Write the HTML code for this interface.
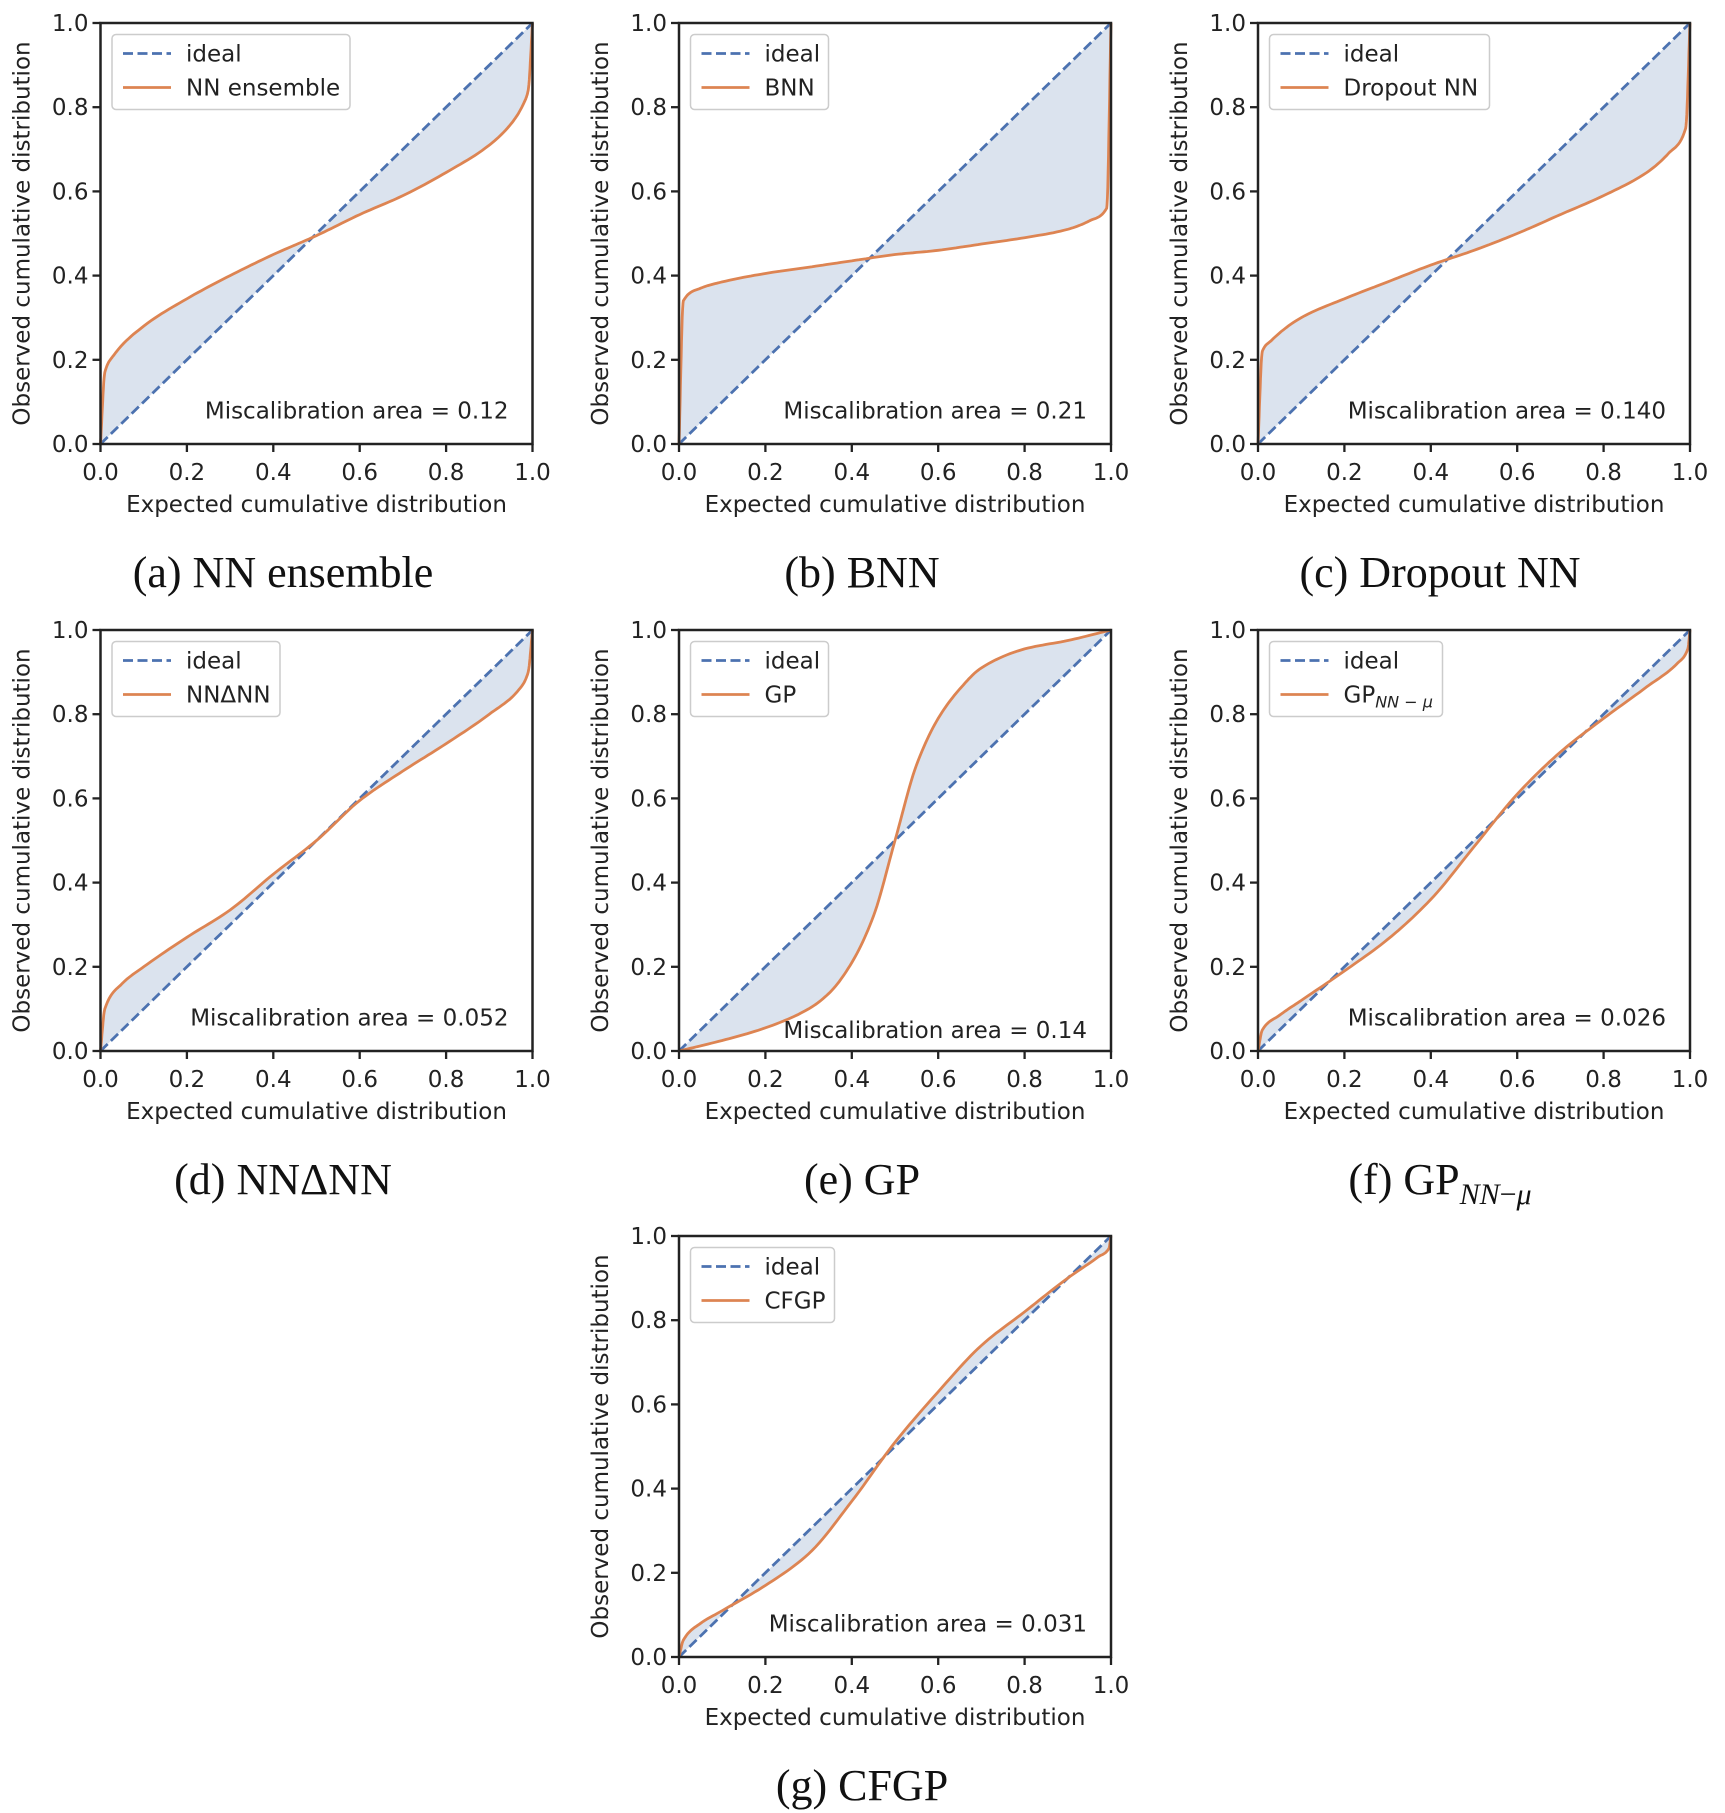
<!DOCTYPE html>
<html><head><meta charset="utf-8"><style>
body{margin:0;background:#fff;}
svg{display:block;}
text{font-family:"DejaVu Sans","Liberation Sans",sans-serif;fill:#222;}
.cap{font-family:"Liberation Serif","DejaVu Serif",serif;font-size:44px;fill:#111;}
</style></head><body>
<svg id="s" width="1725" height="1813" xmlns="http://www.w3.org/2000/svg"></svg>
<script>
const panels=[
{x:100.5,y:23,name:"NN ensemble",leg:238,mis:"Miscalibration area = 0.12",my:0.08,cap:"(a) NN ensemble",cx:283,
pts:[[0,0],[0.01,0.17],[0.03,0.21],[0.1,0.28],[0.2,0.345],[0.3,0.40],[0.4,0.45],[0.5,0.495],[0.6,0.545],[0.7,0.59],[0.8,0.645],[0.9,0.71],[0.95,0.76],[0.98,0.81],[0.99,0.84],[1,1]]},
{x:679,y:23,name:"BNN",leg:138,mis:"Miscalibration area = 0.21",my:0.08,cap:"(b) BNN",cx:862,
pts:[[0,0],[0.01,0.34],[0.05,0.37],[0.1,0.385],[0.2,0.405],[0.3,0.42],[0.4,0.435],[0.5,0.45],[0.6,0.46],[0.7,0.475],[0.8,0.49],[0.9,0.51],[0.95,0.53],[0.99,0.56],[1,1]]},
{x:1258,y:23,name:"Dropout NN",leg:220,mis:"Miscalibration area = 0.140",my:0.08,cap:"(c) Dropout NN",cx:1440,
pts:[[0,0],[0.01,0.22],[0.03,0.245],[0.1,0.30],[0.2,0.345],[0.3,0.385],[0.4,0.425],[0.5,0.46],[0.6,0.50],[0.7,0.545],[0.8,0.59],[0.9,0.645],[0.95,0.69],[0.99,0.75],[1,1]]},
{x:100.5,y:630,name:"NN\u0394NN",leg:168,mis:"Miscalibration area = 0.052",my:0.08,cap:"(d) NN\u0394NN",cx:283,
pts:[[0,0],[0.01,0.1],[0.05,0.16],[0.1,0.2],[0.2,0.27],[0.3,0.335],[0.4,0.42],[0.5,0.5],[0.6,0.595],[0.7,0.665],[0.8,0.73],[0.9,0.8],[0.97,0.86],[0.99,0.9],[1,1]]},
{x:679,y:630,name:"GP",leg:138,mis:"Miscalibration area = 0.14",my:0.05,cap:"(e) GP",cx:862,
pts:[[0,0],[0.1,0.025],[0.2,0.055],[0.3,0.1],[0.35,0.14],[0.4,0.21],[0.45,0.32],[0.5,0.5],[0.55,0.68],[0.6,0.79],[0.65,0.86],[0.7,0.91],[0.8,0.955],[0.9,0.975],[1,1]]},
{x:1258,y:630,name:"GP",sub:"NN \u2212 \u03bc",leg:173,mis:"Miscalibration area = 0.026",my:0.08,cap:"",cx:1440,
pts:[[0,0],[0.01,0.05],[0.05,0.085],[0.1,0.12],[0.2,0.19],[0.3,0.265],[0.4,0.36],[0.5,0.485],[0.6,0.61],[0.7,0.71],[0.8,0.79],[0.9,0.865],[0.97,0.92],[0.995,0.955],[1,1]]},
{x:679,y:1236,name:"CFGP",leg:144,mis:"Miscalibration area = 0.031",my:0.08,cap:"(g) CFGP",cx:862,
pts:[[0,0],[0.01,0.04],[0.05,0.08],[0.1,0.11],[0.2,0.17],[0.3,0.245],[0.4,0.37],[0.5,0.51],[0.6,0.63],[0.7,0.74],[0.8,0.82],[0.9,0.9],[0.97,0.95],[0.995,0.97],[1,1]]}
];
const W=432,H=421;
function interp(p,n){
 const N=p.length,d=[],m=new Array(N);
 for(let i=0;i<N-1;i++)d.push((p[i+1][1]-p[i][1])/(p[i+1][0]-p[i][0]));
 m[0]=d[0];m[N-1]=d[N-2];
 for(let i=1;i<N-1;i++){if(d[i-1]*d[i]<=0)m[i]=0;else{const w1=2*(p[i+1][0]-p[i][0])+(p[i][0]-p[i-1][0]),w2=(p[i+1][0]-p[i][0])+2*(p[i][0]-p[i-1][0]);m[i]=(w1+w2)/(w1/d[i-1]+w2/d[i]);}}
 const o=[];
 for(let i=0;i<N-1;i++){const h=p[i+1][0]-p[i][0];
  for(let k=0;k<n;k++){const t=k/n,t2=t*t,t3=t2*t;
   const y=(2*t3-3*t2+1)*p[i][1]+(t3-2*t2+t)*h*m[i]+(-2*t3+3*t2)*p[i+1][1]+(t3-t2)*h*m[i+1];
   o.push([p[i][0]+h*t,y]);}}
 o.push(p[N-1]);return o;}
let h='';
for(const P of panels){
 const X=v=>P.x+v*W,Y=v=>P.y+H-v*H;
 const c=interp(P.pts,12);
 let poly=c.map(q=>X(q[0]).toFixed(1)+','+Y(q[1]).toFixed(1)).join(' ');
 h+=`<polygon points="${poly} ${X(1)},${Y(1)} ${X(0)},${Y(0)}" fill="#dbe3ee"/>`;
 h+=`<line x1="${X(0)}" y1="${Y(0)}" x2="${X(1)}" y2="${Y(1)}" stroke="#4c72b0" stroke-width="2.8" stroke-dasharray="10,4.5"/>`;
 h+=`<polyline points="${poly}" fill="none" stroke="#dd8452" stroke-width="2.8"/>`;
 h+=`<rect x="${P.x}" y="${P.y}" width="${W}" height="${H}" fill="none" stroke="#222" stroke-width="2.5"/>`;
 for(let i=0;i<=5;i++){const v=i/5,l=v.toFixed(1);
  h+=`<line x1="${X(v)}" y1="${P.y+H}" x2="${X(v)}" y2="${P.y+H+8}" stroke="#222" stroke-width="2.3"/>`;
  h+=`<text x="${X(v)}" y="${P.y+H+36}" font-size="23" text-anchor="middle">${l}</text>`;
  h+=`<line x1="${P.x-8}" y1="${Y(v)}" x2="${P.x}" y2="${Y(v)}" stroke="#222" stroke-width="2.3"/>`;
  h+=`<text x="${P.x-12}" y="${Y(v)+8}" font-size="23" text-anchor="end">${l}</text>`;}
 h+=`<text x="${X(0.5)}" y="${P.y+H+68}" font-size="23" text-anchor="middle">Expected cumulative distribution</text>`;
 h+=`<text transform="translate(${P.x-78},${Y(0.5)}) rotate(-90)" font-size="23" text-anchor="middle" dominant-baseline="central">Observed cumulative distribution</text>`;
 const lx=P.x+11.5,ly=P.y+11.5;
 h+=`<rect x="${lx}" y="${ly}" width="${P.leg}" height="75" rx="4" fill="#fff" fill-opacity="0.85" stroke="#ccc" stroke-width="1.5"/>`;
 h+=`<line x1="${lx+11}" y1="${ly+19}" x2="${lx+59}" y2="${ly+19}" stroke="#4c72b0" stroke-width="2.8" stroke-dasharray="10,4.5"/>`;
 h+=`<text x="${lx+74}" y="${ly+27}" font-size="23">ideal</text>`;
 h+=`<line x1="${lx+11}" y1="${ly+53}" x2="${lx+59}" y2="${ly+53}" stroke="#dd8452" stroke-width="2.8"/>`;
 h+=`<text x="${lx+74}" y="${ly+61}" font-size="23">${P.name}${P.sub?`<tspan font-size="16" font-style="italic" dy="5">${P.sub}</tspan>`:''}</text>`;
 h+=`<text x="${P.x+W-24}" y="${Y(P.my)+8}" font-size="23" text-anchor="end">${P.mis}</text>`;
 const cy=P.y+H+143;
 if(P.cap) h+=`<text class="cap" x="${P.cx}" y="${cy}" text-anchor="middle">${P.cap}</text>`;
 else h+=`<text class="cap" x="${P.cx}" y="${cy}" text-anchor="middle">(f) GP<tspan font-size="30" font-style="italic" dy="10">NN</tspan><tspan font-size="30" dy="0">\u2212</tspan><tspan font-size="30" font-style="italic">\u03bc</tspan></text>`;
}
document.getElementById('s').innerHTML=h;
</script>
</body></html>
